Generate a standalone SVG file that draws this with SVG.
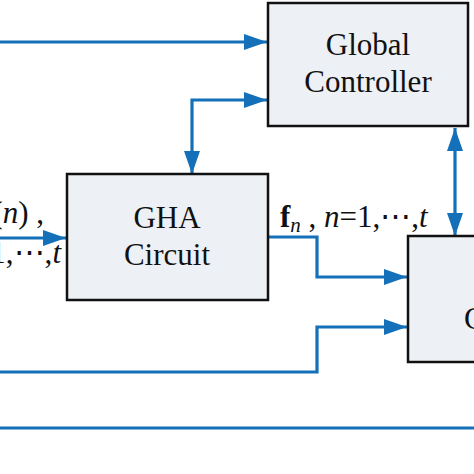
<svg xmlns="http://www.w3.org/2000/svg" width="474" height="474" viewBox="0 0 474 474">
<style>
.box{fill:#edf0f5;stroke:#111;stroke-width:2.5}
.lbl{font-family:"Liberation Serif","Times New Roman",serif;font-size:31px;fill:#111}
.c{stroke:#1470b8;stroke-width:3.2;fill:none}
.it{font-style:italic}
</style>
<defs>
<marker id="ah" markerUnits="userSpaceOnUse" markerWidth="24" markerHeight="17" refX="23" refY="8" orient="auto">
<path d="M0,0 L23,8 L0,16 z" fill="#1470b8"/>
</marker>
<marker id="as" markerUnits="userSpaceOnUse" markerWidth="24" markerHeight="17" refX="0" refY="8" orient="auto">
<path d="M23,0 L0,8 L23,16 z" fill="#1470b8"/>
</marker>
</defs>
<rect width="474" height="474" fill="#fff"/>
<g id="connectors">
<path class="c" d="M0,42 H267" marker-end="url(#ah)"/>
<path class="c" d="M192,174 V100 H267" marker-start="url(#as)" marker-end="url(#ah)"/>
<path class="c" d="M455,128 V236" marker-start="url(#as)" marker-end="url(#ah)"/>
<path class="c" d="M0,238 H66" marker-end="url(#ah)"/>
<path class="c" d="M268,237 H317 V277 H407" marker-end="url(#ah)"/>
<path class="c" d="M0,372 H317 V327 H407" marker-end="url(#ah)"/>
<path class="c" d="M0,428 H474"/>
</g>
<g id="global-controller">
<rect class="box" x="268" y="3" width="200" height="123"/>
<text class="lbl" x="368" y="55" text-anchor="middle">Global</text>
<text class="lbl" x="368" y="92" text-anchor="middle">Controller</text>
</g>
<g id="gha-circuit">
<rect class="box" x="67" y="174" width="201" height="126"/>
<text class="lbl" x="167" y="228" text-anchor="middle">GHA</text>
<text class="lbl" x="167" y="265" text-anchor="middle">Circuit</text>
</g>
<g id="output-block">
<rect class="box" x="408" y="236" width="80" height="126"/>
<text class="lbl" x="464" y="329">C</text>
</g>
<g id="labels">
<text class="lbl" x="44" y="223" text-anchor="end">x(<tspan class="it">n</tspan>) ,</text>
<text class="lbl" x="61" y="263" text-anchor="end"><tspan class="it">n</tspan>=1,⋯,<tspan class="it">t</tspan></text>
<text class="lbl" x="280" y="227"><tspan font-weight="bold">f</tspan><tspan class="it" font-size="21" dy="5">n</tspan><tspan dy="-5"> , </tspan><tspan class="it">n</tspan>=1,⋯,<tspan class="it">t</tspan></text>
</g>
</svg>
